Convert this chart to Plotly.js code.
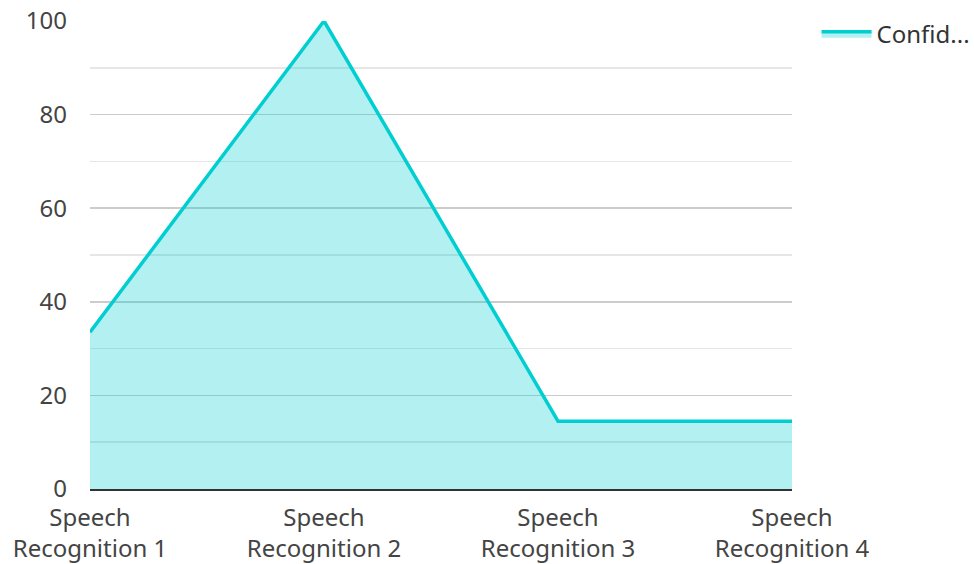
<!DOCTYPE html>
<html>
<head>
<meta charset="utf-8">
<script src="https://cdn.plot.ly/plotly-3.0.1.min.js"></script>
<style>html,body{margin:0;padding:0;background:#fff;}#chart{width:974px;height:564px;}</style>
</head>
<body>
<div id="chart"></div>
<script>
const categories = ["Speech<br>Recognition 1", "Speech<br>Recognition 2", "Speech<br>Recognition 3", "Speech<br>Recognition 4"];
const seriesName = "Confid...";
const confidence = [33.5, 100, 14.5, 14.5];
const yTicks = [0, 20, 40, 60, 80, 100];

const trace = {
  x: categories,
  y: confidence,
  type: 'scatter',
  mode: 'lines',
  name: seriesName,
  fill: 'tozeroy',
  fillcolor: 'rgba(0,206,209,0.3)',
  line: {color: '#00CED1', width: 3.5}
};

const layout = {
  width: 974, height: 564,
  margin: {l: 90, r: 182, t: 21, b: 75, autoexpand: false},
  paper_bgcolor: '#fff', plot_bgcolor: '#fff',
  font: {family: 'Noto Sans, Open Sans, sans-serif', size: 24, color: '#444'},
  showlegend: true,
  legend: {x: 1.035, y: 0.972, xanchor: 'left', yanchor: 'middle', itemwidth: 50, font: {size: 24, color: '#333'}},
  xaxis: {
    type: 'category', range: [0, 3], showgrid: false, zeroline: false, automargin: false,
    showline: true, linecolor: '#333', linewidth: 2,
    ticks: '', ticklabelstandoff: 6, tickfont: {size: 24, color: '#444'}
  },
  yaxis: {
    range: [0, 100], tickvals: yTicks, showgrid: true, gridcolor: '#cccccc', gridwidth: 1.5,
    minor: {dtick: 10, showgrid: true, gridcolor: '#e6e6e6', gridwidth: 1.5},
    zeroline: false, showline: false, ticks: '', automargin: false, ticklabelstandoff: 22,
    tickfont: {size: 24, color: '#444'}
  }
};

Plotly.newPlot('chart', [trace], layout, {displayModeBar: false, staticPlot: true});
</script>
</body>
</html>
